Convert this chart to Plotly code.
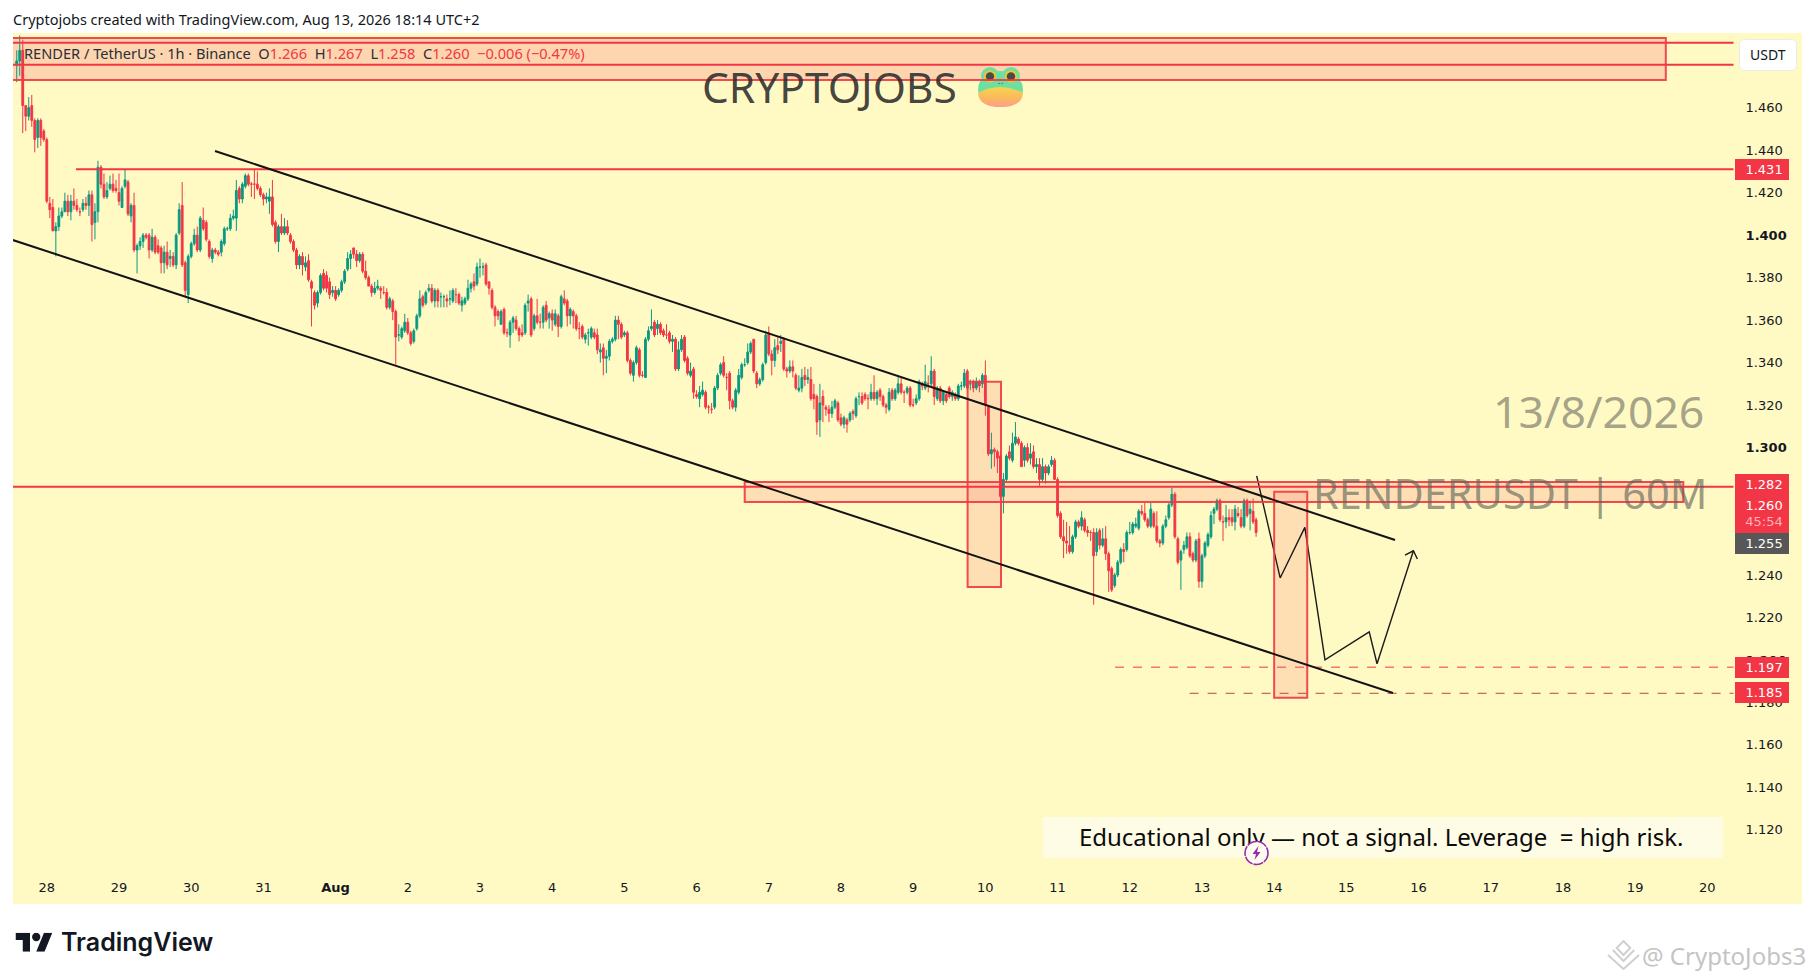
import base64
import numpy as np
import pandas as pd
import plotly.graph_objects as go

# Hourly candles, prices in thousandths of USDT
opens_m = [
1480,1482,1487,1461,1456,1461,1454,1446,1454,1449,
1445,1415,1413,1402,1404,1409,1411,1416,1411,1416,
1414,1411,1412,1415,1414,1419,1406,1411,1432,1424,
1418,1422,1424,1422,1420,1413,1423,1425,1409,1414,
1393,1395,1397,1400,1400,1393,1399,1395,1394,1387,
1392,1389,1390,1386,1401,1414,1387,1372,1390,1396,
1400,1393,1407,1406,1397,1389,1393,1392,1392,1396,
1403,1403,1408,1408,1422,1417,1423,1428,1424,1424,
1424,1422,1419,1417,1416,1418,1406,1397,1404,1401,
1404,1400,1397,1393,1386,1390,1385,1388,1378,1373,
1368,1373,1382,1381,1378,1373,1374,1372,1374,1378,
1384,1389,1394,1391,1388,1391,1383,1380,1376,1373,
1375,1375,1373,1373,1366,1369,1364,1353,1352,1355,
1359,1354,1350,1356,1362,1371,1368,1374,1375,1369,
1374,1371,1371,1370,1370,1369,1372,1372,1367,1368,
1370,1375,1378,1377,1385,1385,1386,1378,1374,1366,
1364,1358,1365,1354,1353,1359,1360,1356,1354,1354,
1368,1370,1356,1362,1359,1359,1367,1361,1363,1358,
1362,1357,1370,1369,1362,1364,1362,1356,1357,1351,
1354,1352,1354,1353,1345,1347,1342,1343,1350,1351,
1360,1358,1353,1354,1341,1334,1340,1346,1334,1333,
1351,1356,1359,1356,1358,1355,1353,1354,1350,1351,
1337,1346,1352,1342,1334,1337,1325,1323,1325,1326,
1319,1318,1319,1328,1335,1340,1333,1335,1322,1319,
1326,1333,1339,1340,1345,1351,1335,1330,1332,1340,
1354,1344,1341,1348,1349,1351,1337,1336,1338,1334,
1327,1328,1334,1332,1332,1325,1324,1313,1324,1319,
1318,1316,1319,1321,1314,1311,1313,1313,1317,1315,
1324,1324,1325,1323,1323,1326,1323,1327,1324,1320,
1318,1327,1323,1326,1330,1326,1326,1328,1320,1321,
1323,1330,1328,1330,1330,1336,1323,1328,1322,1325,
1328,1324,1325,1323,1329,1329,1336,1330,1331,1328,
1331,1330,1334,1319,1297,1299,1298,1296,1277,1285,
1298,1294,1302,1304,1302,1294,1300,1295,1298,1291,
1292,1285,1291,1288,1292,1294,1285,1269,1258,1256,
1254,1251,1258,1265,1263,1266,1261,1260,1260,1251,
1261,1254,1257,1250,1243,1235,1240,1246,1252,1252,
1260,1260,1263,1262,1270,1269,1266,1263,1269,1263,
1256,1255,1263,1267,1273,1278,1257,1247,1252,1253,
1258,1250,1247,1257,1237,1249,1254,1258,1269,1271,
1275,1265,1265,1267,1267,1265,1269,1267,1263,1275,
1269,1270,1266]
closes_m = [
1482,1487,1461,1456,1460,1454,1445,1454,1446,1445,
1416,1412,1402,1404,1409,1411,1416,1411,1416,1414,
1412,1411,1415,1414,1419,1405,1411,1432,1424,1418,
1421,1424,1421,1421,1416,1422,1426,1410,1414,1393,
1395,1397,1400,1399,1393,1399,1392,1392,1387,1392,
1386,1390,1386,1400,1412,1386,1374,1390,1396,1400,
1393,1408,1403,1398,1390,1393,1392,1391,1397,1403,
1403,1408,1409,1421,1417,1424,1428,1424,1424,1424,
1422,1419,1417,1418,1418,1405,1397,1404,1401,1404,
1401,1397,1393,1386,1390,1386,1387,1379,1375,1367,
1373,1381,1375,1375,1372,1374,1370,1374,1378,1383,
1389,1391,1391,1388,1391,1383,1380,1376,1373,1375,
1376,1374,1373,1366,1370,1364,1352,1353,1356,1359,
1354,1349,1355,1362,1370,1367,1373,1375,1369,1374,
1369,1371,1371,1369,1370,1374,1372,1368,1369,1370,
1375,1377,1376,1385,1385,1385,1377,1375,1366,1362,
1362,1364,1354,1354,1359,1361,1356,1353,1353,1367,
1369,1353,1362,1359,1359,1366,1360,1363,1360,1363,
1357,1371,1368,1362,1365,1362,1356,1356,1352,1353,
1354,1356,1352,1346,1346,1342,1343,1350,1351,1360,
1358,1352,1354,1341,1335,1340,1347,1334,1334,1351,
1355,1357,1353,1358,1354,1353,1353,1350,1351,1337,
1346,1351,1341,1335,1336,1326,1324,1326,1327,1319,
1319,1318,1328,1334,1339,1334,1333,1322,1319,1327,
1334,1339,1339,1345,1349,1336,1330,1332,1339,1353,
1344,1341,1347,1346,1350,1337,1336,1338,1336,1328,
1328,1333,1332,1333,1323,1323,1312,1321,1320,1318,
1316,1319,1322,1313,1311,1314,1311,1316,1316,1323,
1324,1321,1323,1323,1326,1323,1326,1324,1320,1319,
1326,1323,1327,1330,1326,1326,1328,1320,1320,1323,
1331,1329,1331,1330,1336,1324,1328,1322,1326,1322,
1324,1326,1323,1329,1329,1335,1328,1330,1328,1331,
1329,1334,1320,1297,1299,1298,1295,1277,1285,1296,
1295,1302,1305,1302,1291,1300,1294,1297,1291,1292,
1285,1291,1288,1291,1294,1285,1268,1258,1256,1255,
1251,1258,1265,1263,1267,1261,1260,1260,1249,1260,
1254,1257,1250,1242,1233,1240,1246,1252,1251,1260,
1260,1264,1264,1270,1269,1266,1263,1271,1263,1256,
1255,1263,1266,1273,1278,1258,1246,1251,1254,1258,
1249,1247,1256,1237,1249,1255,1259,1268,1271,1275,
1266,1265,1267,1266,1265,1271,1268,1263,1275,1268,
1271,1265,1260]
highs_m = [
1487,1494,1492,1461,1465,1466,1455,1455,1455,1450,
1446,1418,1417,1406,1413,1413,1420,1419,1419,1422,
1417,1413,1417,1418,1421,1421,1415,1435,1433,1429,
1425,1428,1429,1426,1429,1423,1431,1426,1415,1420,
1396,1399,1401,1401,1401,1403,1400,1398,1395,1395,
1397,1393,1392,1401,1415,1425,1388,1391,1397,1403,
1404,1409,1413,1407,1398,1394,1394,1393,1398,1404,
1404,1410,1412,1426,1423,1425,1429,1429,1425,1431,
1430,1423,1420,1420,1422,1426,1407,1405,1410,1408,
1407,1401,1398,1394,1391,1392,1390,1391,1379,1374,
1374,1382,1384,1383,1380,1376,1376,1375,1379,1384,
1392,1393,1394,1393,1392,1392,1388,1381,1377,1378,
1379,1376,1376,1375,1371,1370,1365,1358,1357,1363,
1361,1355,1356,1363,1374,1372,1374,1377,1377,1375,
1375,1373,1372,1372,1374,1375,1375,1373,1371,1371,
1379,1378,1382,1387,1389,1387,1387,1378,1375,1367,
1365,1365,1366,1356,1360,1362,1362,1357,1358,1368,
1372,1371,1363,1370,1363,1367,1369,1364,1365,1365,
1363,1372,1374,1370,1366,1365,1363,1359,1358,1354,
1356,1357,1356,1356,1349,1349,1346,1351,1352,1362,
1362,1359,1355,1355,1342,1341,1348,1347,1336,1352,
1357,1365,1360,1360,1359,1356,1358,1355,1353,1352,
1350,1353,1353,1343,1340,1338,1327,1329,1331,1327,
1320,1321,1329,1335,1340,1343,1335,1336,1323,1328,
1337,1340,1342,1349,1350,1351,1336,1333,1340,1355,
1357,1346,1351,1352,1353,1352,1338,1341,1341,1335,
1334,1337,1338,1337,1338,1330,1325,1330,1327,1320,
1320,1322,1323,1322,1316,1315,1314,1317,1318,1324,
1326,1326,1326,1325,1330,1334,1327,1328,1325,1321,
1328,1328,1328,1334,1333,1327,1329,1329,1323,1325,
1332,1331,1339,1334,1343,1337,1329,1329,1327,1326,
1329,1327,1326,1330,1331,1337,1337,1332,1332,1333,
1332,1335,1341,1320,1307,1300,1299,1297,1288,1297,
1301,1307,1312,1305,1303,1301,1302,1302,1301,1295,
1295,1295,1292,1292,1296,1295,1286,1270,1266,1265,
1263,1259,1266,1266,1270,1267,1263,1261,1262,1262,
1262,1262,1263,1251,1244,1241,1247,1253,1255,1261,
1265,1265,1267,1271,1273,1274,1267,1274,1270,1270,
1257,1264,1268,1274,1281,1279,1258,1252,1256,1260,
1260,1251,1257,1260,1250,1256,1260,1270,1272,1276,
1276,1268,1273,1271,1271,1273,1272,1271,1276,1276,
1275,1276,1267]
lows_m = [
1472,1475,1448,1449,1454,1451,1439,1441,1442,1444,
1415,1408,1402,1390,1402,1408,1412,1409,1407,1412,
1411,1409,1411,1412,1409,1397,1398,1406,1422,1417,
1417,1421,1420,1420,1414,1413,1422,1409,1406,1392,
1382,1393,1394,1398,1389,1392,1391,1391,1382,1382,
1384,1385,1385,1384,1400,1385,1371,1368,1389,1395,
1392,1392,1402,1397,1389,1387,1391,1390,1390,1395,
1402,1402,1407,1402,1415,1415,1422,1423,1418,1417,
1421,1418,1414,1415,1410,1404,1396,1392,1400,1400,
1400,1396,1392,1384,1384,1381,1383,1378,1357,1365,
1366,1372,1374,1373,1370,1371,1369,1371,1373,1377,
1383,1384,1389,1385,1387,1382,1379,1376,1371,1372,
1374,1370,1372,1365,1365,1360,1339,1350,1351,1354,
1353,1348,1349,1355,1361,1366,1367,1373,1368,1366,
1366,1366,1366,1366,1367,1368,1368,1367,1364,1367,
1369,1373,1374,1376,1380,1381,1376,1372,1365,1357,
1360,1358,1353,1352,1347,1354,1355,1350,1352,1353,
1364,1352,1355,1358,1356,1356,1359,1356,1355,1357,
1352,1356,1367,1357,1358,1356,1355,1351,1351,1349,
1348,1351,1351,1344,1340,1334,1335,1341,1349,1350,
1351,1351,1352,1340,1334,1331,1339,1333,1333,1333,
1350,1355,1352,1353,1353,1352,1351,1349,1345,1336,
1336,1345,1340,1334,1333,1323,1323,1319,1324,1318,
1316,1316,1318,1327,1334,1333,1327,1318,1318,1317,
1325,1332,1338,1339,1344,1335,1328,1329,1331,1339,
1343,1334,1338,1344,1345,1336,1333,1335,1333,1327,
1326,1326,1329,1330,1322,1318,1306,1305,1312,1315,
1312,1314,1318,1312,1310,1309,1307,1312,1313,1314,
1320,1320,1322,1318,1322,1322,1320,1322,1319,1316,
1317,1322,1322,1325,1325,1321,1325,1319,1319,1320,
1322,1327,1327,1326,1329,1320,1322,1321,1320,1321,
1323,1322,1322,1322,1327,1328,1327,1327,1326,1327,
1326,1328,1315,1296,1290,1291,1288,1276,1269,1284,
1294,1293,1301,1301,1291,1291,1293,1292,1290,1288,
1282,1284,1283,1287,1291,1285,1267,1257,1248,1250,
1250,1250,1257,1262,1261,1260,1258,1256,1226,1249,
1252,1253,1247,1232,1232,1234,1239,1245,1246,1251,
1259,1259,1262,1261,1268,1265,1262,1262,1262,1255,
1253,1254,1262,1266,1272,1257,1245,1233,1250,1252,
1248,1246,1246,1234,1234,1248,1253,1257,1264,1270,
1265,1256,1262,1263,1263,1261,1267,1262,1262,1267,
1261,1264,1258]
assert len(opens_m) == len(closes_m) == len(highs_m) == len(lows_m) == 413, (len(opens_m), len(closes_m), len(highs_m), len(lows_m))

times = pd.date_range("2026-07-27 14:00", periods=413, freq="h")
opens, highs, lows, closes = [np.array(v) / 1000 for v in (opens_m, highs_m, lows_m, closes_m)]

# Axis labels
date_labels = ["28", "29", "30", "31", "<b>Aug</b>"] + [str(d) for d in range(2, 21)]
date_ticks = pd.date_range("2026-07-28", periods=24, freq="D")
price_ticks = [1.46, 1.44, 1.42, 1.40, 1.38, 1.36, 1.34, 1.32, 1.30, 1.28, 1.26, 1.24, 1.22, 1.20, 1.18, 1.16, 1.14, 1.12]
price_labels = [f"<b>{p:.3f}</b>" if round(p * 100) % 10 == 0 else f"{p:.3f}" for p in price_ticks]

# Drawn objects: hours after 28 Jul 00:00, and prices
upper_channel = ((55.9, 1.4396), (448.2, 1.2565))
lower_channel = ((-11.3, 1.3977), (447.5, 1.1844))
path_hours = [402.2, 410.0, 418.2, 424.9, 439.6, 442.2, 454.3]
path_prices = [1.2867, 1.2386, 1.2624, 1.2000, 1.2132, 1.1982, 1.2514]
barb_hours = [451.5, 454.3, 455.6]
barb_prices = [1.2494, 1.2514, 1.2475]

RED = "#F23645"
UP = "#089981"
PANE = "#FFF9C4"
L, R, T, B = 13, 1735, 33, 870
W, H = 1814, 980


def when(h):
    return pd.Timestamp("2026-07-28") + pd.Timedelta(hours=h)


def px(x):
    return (x - L) / (R - L)


def py(y):
    return (B - y) / (B - T)


X_MIN, X_MAX = -11.24, 561.2
Y_MAX = 1.46 + (107.7 - T) / 2124
Y_MIN = 1.46 - (B - 107.7) / 2124

fig = go.Figure()
fig.add_trace(go.Candlestick(
    x=times, open=opens, high=highs, low=lows, close=closes,
    increasing=dict(line=dict(color=UP, width=1), fillcolor=UP),
    decreasing=dict(line=dict(color=RED, width=1), fillcolor=RED),
    whiskerwidth=0, hoverinfo="skip", showlegend=False,
))
fig.add_trace(go.Scatter(
    x=[when(h) for h in path_hours], y=path_prices, mode="lines",
    line=dict(color="#1a1a1a", width=1.4), hoverinfo="skip", showlegend=False,
))
fig.add_trace(go.Scatter(
    x=[when(h) for h in barb_hours], y=barb_prices, mode="lines",
    line=dict(color="#1a1a1a", width=1.4), hoverinfo="skip", showlegend=False,
))
fig.add_trace(go.Scatter(
    x=[when(343.1)], y=[1.1153], mode="text", textposition="middle right",
    text=["Educational only — not a signal. Leverage \u00a0= high risk."],
    textfont=dict(size=24, color="#0b0b0b", family="Noto Sans"),
    hoverinfo="skip", showlegend=False, cliponaxis=False,
))

shapes = [
    dict(type="rect", xref="paper", yref="paper", x0=px(13), x1=px(1802), y0=py(33), y1=py(904),
         fillcolor=PANE, line=dict(width=0), layer="below"),
    dict(type="rect", xref="paper", yref="paper", x0=px(1043), x1=px(1722.7), y0=py(817), y1=py(857.7),
         fillcolor="#FFFCE6", line=dict(width=0), layer="below"),
]


def zone(h0, h1, p0, p1, alpha):
    shapes.append(dict(type="rect", xref="x", yref="y", x0=when(h0), x1=when(h1), y0=p0, y1=p1,
                       fillcolor=f"rgba(249,122,122,{alpha})", line=dict(width=0), layer="below"))
    shapes.append(dict(type="rect", xref="x", yref="y", x0=when(h0), x1=when(h1), y0=p0, y1=p1,
                       fillcolor="rgba(0,0,0,0)", line=dict(color="rgba(242,54,69,0.9)", width=2), layer="above"))


zone(-30, 538.2, 1.4928, 1.4730, 0.28)
zone(232.0, 544.0, 1.2838, 1.2744, 0.2)
zone(306.1, 317.2, 1.3310, 1.2343, 0.2)
zone(408.0, 419.0, 1.2792, 1.1822, 0.2)


def hline(h0, h1, p, width=2, dash="solid", color=RED):
    shapes.append(dict(type="line", xref="x", yref="y", x0=when(h0), x1=when(h1), y0=p, y1=p,
                       line=dict(color=color, width=width, dash=dash), layer="above"))


hline(-30, 560.7, 1.4906)
hline(-30, 560.7, 1.4802)
hline(9.7, 560.7, 1.431)
hline(-30, 560.7, 1.2815)
hline(355.1, 560.7, 1.1966, 1, "dash")
hline(379.9, 560.7, 1.1843, 1, "dash", "#B5484C")

for (h0, p0), (h1, p1) in (upper_channel, lower_channel):
    shapes.append(dict(type="line", xref="x", yref="y", x0=when(h0), x1=when(h1), y0=p0, y1=p1,
                       line=dict(color="#131313", width=2), layer="above"))

ann = []


def txt(x, y, text, size, color="#131722", anchor="left", family="Noto Sans", weight=None):
    f = dict(size=size, color=color, family=family)
    if weight:
        f["weight"] = weight
    ann.append(dict(xref="paper", yref="paper", x=px(x), y=py(y), text=text, showarrow=False,
                    xanchor=anchor, yanchor="middle", font=f, borderpad=0, borderwidth=0))


def red(s):
    return f'<span style="color:{RED}">{s}</span>'


txt(13, 19, "Cryptojobs created with TradingView.com, Aug 13, 2026 18:14 UTC+2", 14.5, "#131722", family="Noto Sans")
txt(23.5, 53,
    "RENDER / TetherUS · 1h · Binance &nbsp;O" + red("1.266") + " &nbsp;H" + red("1.267") + " &nbsp;L" + red("1.258")
    + " &nbsp;C" + red("1.260") + " &nbsp;" + red("−0.006 (−0.47%)"), 14.6, "#2a2e39")
txt(702, 86, "CRYPTOJOBS", 42.5, "rgba(45,45,45,0.9)")
txt(1493, 410, "13/8/2026", 44.5, "rgba(105,105,95,0.6)")
txt(1313, 493, "RENDERUSDT | 60M", 41.5, "rgba(100,100,90,0.65)")
txt(1767.6, 55, "USDT", 14, "#131722", anchor="center")
txt(61, 942, "TradingView", 25, "#131722", family="Inter", weight=600)
txt(1642, 955, "@ CryptoJobs3", 24, "#C4C4C4", family="Noto Sans")


def badge(price, text, color=RED, height=21, yshift=0):
    ann.append(dict(xref="paper", yref="y", x=1.0, y=price, text=text, showarrow=False, xanchor="left",
                    yanchor="middle", yshift=yshift, width=54, height=height, align="center", valign="middle",
                    bgcolor=color, borderpad=0, borderwidth=0,
                    font=dict(size=13, color="white", family="DejaVu Sans")))


badge(1.431, "&nbsp;1.431")
badge(1.282, "&nbsp;1.282", yshift=1)
badge(1.260, '&nbsp;1.260<br><span style="color:#FFB3B9">&nbsp;45:54</span>', height=39, yshift=19)
badge(1.255, "&nbsp;1.255", color="#575757")
badge(1.197, "&nbsp;1.197", yshift=-1)
badge(1.185, "&nbsp;1.185", yshift=-1)


def svg(markup):
    return "data:image/svg+xml;base64," + base64.b64encode(markup.encode()).decode()


def image(x0, x1, y0, y1, markup):
    return dict(source=svg(markup), xref="paper", yref="paper", x=px(x0), y=py(y0),
                sizex=(x1 - x0) / (R - L), sizey=(y1 - y0) / (B - T),
                xanchor="left", yanchor="top", sizing="stretch", layer="above")


frog = ('<svg xmlns="http://www.w3.org/2000/svg" viewBox="0 0 45 40"><defs><linearGradient id="g" x1="0" y1="0" x2="0" y2="1">'
        '<stop offset="0" stop-color="#F9D54A"/><stop offset="0.55" stop-color="#F9B95C"/><stop offset="1" stop-color="#FF9C8E"/></linearGradient></defs>'
        '<circle cx="12" cy="9" r="9" fill="#6FDFA0"/><circle cx="33" cy="9" r="9" fill="#6FDFA0"/>'
        '<ellipse cx="22.5" cy="22" rx="22.5" ry="18" fill="#6FDFA0"/>'
        '<path d="M0 26 Q22.5 14 45 26 Q44 40 22.5 40 Q1 40 0 26Z" fill="url(#g)"/>'
        '<circle cx="12" cy="9.5" r="6" fill="#F7C52B"/><circle cx="33" cy="9.5" r="6" fill="#F7C52B"/>'
        '<circle cx="12" cy="9.5" r="4.2" fill="#4A4A48"/><circle cx="33" cy="9.5" r="4.2" fill="#4A4A48"/>'
        '<circle cx="21" cy="16.5" r="0.6" fill="#333"/><circle cx="24" cy="16.5" r="0.6" fill="#333"/></svg>')
usdt_box = ('<svg xmlns="http://www.w3.org/2000/svg" viewBox="0 0 58 32"><rect x="0.5" y="0.5" width="57" height="31" rx="5" '
            'fill="#FFFFFF" stroke="#EAEAEA"/></svg>')
tv_logo = ('<svg xmlns="http://www.w3.org/2000/svg" viewBox="0 4 36 18" preserveAspectRatio="none">'
           '<path d="M14 22H7V11H0V4h14v18zM28 22h-8l7.5-18h8L28 22z" fill="#131722"/><circle cx="20" cy="8" r="4" fill="#131722"/></svg>')
bolt = ('<svg xmlns="http://www.w3.org/2000/svg" viewBox="0 0 26 26"><circle cx="13" cy="13" r="11.5" fill="#FFFDF0" stroke="#9C27B0" '
        'stroke-width="1.6" stroke-dasharray="10 1"/><path d="M15 6 L9 14 H12.5 L11 20 L17 12 H13.5 Z" fill="#9C27B0"/></svg>')
diamond = ('<svg xmlns="http://www.w3.org/2000/svg" viewBox="0 0 34 30"><g fill="none" stroke="#CFCFCF" stroke-width="2">'
           '<path d="M17 1 L24 8 L17 15 L10 8 Z"/><path d="M6 10 L13 17 L17 21 L21 17 L28 10"/><path d="M1 15 L17 29 L33 15"/>'
           '</g></svg>')

images = [
    image(978, 1023, 67, 107, frog),
    image(1739, 1797, 39, 71, usdt_box),
    image(15.5, 52.8, 932.7, 951.7, tv_logo),
    image(1243.5, 1269.5, 840, 866, bolt),
    image(1607, 1640, 940, 970, diamond),
]

fig.update_layout(
    width=W, height=H, autosize=False,
    margin=dict(l=L, r=W - R, t=T, b=H - B, pad=0),
    paper_bgcolor="white", plot_bgcolor="rgba(0,0,0,0)",
    showlegend=False, dragmode=False, hovermode=False,
    boxgap=0.15,
    shapes=shapes, annotations=ann, images=images,
    xaxis=dict(type="date", range=[when(X_MIN), when(X_MAX)], rangeslider=dict(visible=False),
               tickmode="array", tickvals=list(date_ticks), ticktext=date_labels, ticks="outside", ticklen=5,
               tickcolor="rgba(0,0,0,0)", tickfont=dict(size=13, family="DejaVu Sans", color="#131722"),
               showgrid=False, zeroline=False, showline=False, tickangle=0),
    yaxis=dict(side="right", range=[Y_MIN, Y_MAX], tickmode="array", tickvals=price_ticks, ticktext=price_labels,
               ticks="outside", ticklen=7, tickcolor="rgba(0,0,0,0)", tickfont=dict(size=13, family="DejaVu Sans", color="#131722"),
               showgrid=False, zeroline=False, showline=False, fixedrange=True),
)

fig.write_html("out.html", config=dict(displayModeBar=False, staticPlot=True),
               post_script="document.body.style.margin='0';document.body.style.overflow='hidden';")
